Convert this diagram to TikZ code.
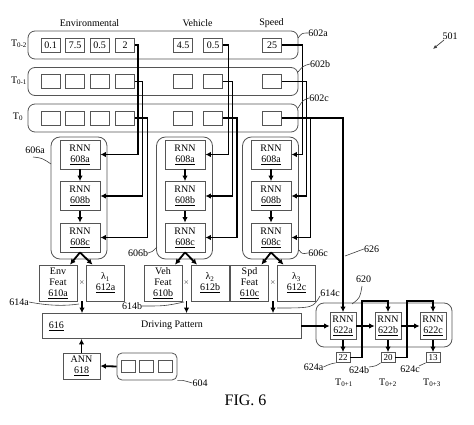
\documentclass[tikz,border=0pt]{standalone}
\usepackage{fontspec}
\setmainfont{Liberation Serif}
\usetikzlibrary{arrows.meta,calc}
\definecolor{boxgray}{RGB}{85,85,85}
\begin{document}
\begin{tikzpicture}[x=1pt,y=-1pt,
  font=\fontsize{10}{11}\selectfont,
  bx/.style={draw=boxgray, line width=0.8pt, inner sep=0pt, align=center},
  cellbox/.style={bx, minimum width=19pt, minimum height=14pt},
  rowbox/.style={draw=boxgray, line width=0.8pt, rounded corners=7pt, minimum width=270pt, minimum height=28pt, inner sep=0pt},
  rnnbox/.style={bx, minimum width=40pt, minimum height=29pt},
  rnnsmall/.style={bx, minimum width=26pt, minimum height=27pt},
  grp/.style={draw=boxgray, line width=0.8pt, rounded corners=9pt, minimum width=56pt, minimum height=122pt, inner sep=0pt},
  featbox/.style={bx, minimum width=38pt, minimum height=36pt},
  outbox/.style={bx, minimum width=14pt, minimum height=10pt, font=\fontsize{9}{9}\selectfont},
  timesmark/.style={text=black!70, inner sep=0pt, font=\fontsize{9}{9}\selectfont},
  wire/.style={line width=1.8pt},
  arr/.style={wire, -{Latex[length=5.5pt,width=5.5pt]}},
  lead/.style={line width=0.6pt, black!75},
  lbl/.style={inner sep=0pt},
]
\useasboundingbox (0,0) rectangle (474,425);

% column titles
\node[lbl] (tenv) at (89.5,23) {Environmental};
\node[lbl] (tveh) at (197.5,23) {Vehicle};
\node[lbl] (tspd) at (271.5,23) {Speed};

% rows
\node[rowbox] (r602a) at (163,45) {};
\node[rowbox] (r602b) at (163,81.5) {};
\node[rowbox] (r602c) at (163,118) {};
\node[lbl] (t02) at (19,44) {T\textsubscript{0-2}};
\node[lbl] (t01) at (19,81) {T\textsubscript{0-1}};
\node[lbl] (t00) at (18,117) {T\textsubscript{0}};

% row a cells
\node[cellbox] (ea1) at (50.5,45) {0.1};
\node[cellbox] (ea2) at (75,45) {7.5};
\node[cellbox] (ea3) at (99.5,45) {0.5};
\node[cellbox] (ea4) at (125,45) {2};
\node[cellbox] (va1) at (183,45) {4.5};
\node[cellbox] (va2) at (213,45) {0.5};
\node[cellbox] (sa) at (272,45) {25};
% rows b, c cells
\foreach \r/\y in {b/81.5,c/118}{
  \node[cellbox] (e\r1) at (50.5,\y) {};
  \node[cellbox] (e\r2) at (75,\y) {};
  \node[cellbox] (e\r3) at (99.5,\y) {};
  \node[cellbox] (e\r4) at (125,\y) {};
  \node[cellbox] (v\r1) at (183,\y) {};
  \node[cellbox] (v\r2) at (213,\y) {};
  \node[cellbox] (s\r) at (272,\y) {};
}

% RNN groups
\node[grp] (g606a) at (79,198) {};
\node[grp] (g606b) at (184.5,198) {};
\node[grp] (g606c) at (270.5,198) {};
\foreach \g/\x in {a/80,b/185,c/271}{
  \node[rnnbox] (n\g1) at (\x,154.5) {RNN\\\underline{608a}};
  \node[rnnbox] (n\g2) at (\x,196) {RNN\\\underline{608b}};
  \node[rnnbox] (n\g3) at (\x,237.5) {RNN\\\underline{608c}};
  \draw[arr] (n\g1.south) -- (n\g2.north);
  \draw[arr] (n\g2.south) -- (n\g3.north);
}

% wires rows -> RNNs
\draw[arr] (ea4.east) -- ++(3,0) |- (na1.east);
\draw[arr] (eb4.east) -- ++(7.5,0) |- (na2.east);
\draw[arr] (ec4.east) -- ++(12.5,0) |- (na3.east);
\draw[arr] (va2.east) -- ++(5.5,0) |- (nb1.east);
\draw[arr] (vb2.east) -- ++(9.5,0) |- (nb2.east);
\draw[arr] (vc2.east) -- ++(14,0) |- (nb3.east);
\draw[arr] (sa.east) -- ++(20.5,0) |- (nc1.east);
\draw[arr] (sb.east) -- ++(24.5,0) |- (nc2.east);
\draw[arr] (sc.east) -- ++(28.5,0) |- (nc3.east);

% feature boxes
\node[featbox] (fa) at (58,283) {Env\\Feat\\\underline{610a}};
\node[featbox] (la) at (105.5,283) {λ\textsubscript{1}\\\underline{612a}};
\node[featbox] (fb) at (163,283) {Veh\\Feat\\\underline{610b}};
\node[featbox] (lb) at (210,283) {λ\textsubscript{2}\\\underline{612b}};
\node[featbox] (fc) at (249.5,283) {Spd\\Feat\\\underline{610c}};
\node[featbox] (lc) at (296.5,283) {λ\textsubscript{3}\\\underline{612c}};
\node[timesmark] (xa) at (82,283) {×};
\node[timesmark] (xb) at (186.5,283) {×};
\node[timesmark] (xc) at (273,283) {×};

\foreach \g in {a,b,c}{
  \draw[arr] (n\g3.south) -- ([xshift=12pt]f\g.north);
  \draw[arr] (n\g3.south) -- ([xshift=-13pt]l\g.north);
}

% driving pattern
\node[bx, minimum width=259pt, minimum height=25pt] (dp) at (171.5,326) {};
\node[lbl] (dpt) at (172,325) {Driving Pattern};
\node[lbl, anchor=west] (dpn) at ([xshift=7pt]dp.west) {\underline{616}};
\foreach \g in {a,b,c}{
  \draw[arr] (x\g |- fa.south) -- (x\g |- dp.north);
}

% ANN and 604
\node[bx, minimum width=37pt, minimum height=26pt] (ann) at (81.5,366) {ANN\\\underline{618}};
\node[draw=boxgray, line width=0.8pt, rounded corners=5pt, minimum width=60pt, minimum height=27pt, inner sep=0pt] (b604) at (147,366.5) {};
\node[bx, minimum width=14pt, minimum height=12pt] (q1) at (128,366) {};
\node[bx, minimum width=14pt, minimum height=12pt] (q2) at (146.5,366) {};
\node[bx, minimum width=14pt, minimum height=12pt] (q3) at (165.5,366) {};
\draw[arr] (b604.west) -- (ann.east);
\draw[arr] (ann.north) -- (ann.north |- dp.south);

% right part
\node[draw=boxgray, line width=0.8pt, rounded corners=8pt, minimum width=136pt, minimum height=44pt, inner sep=0pt] (g620) at (384,325) {};
\node[rnnsmall] (ra) at (343,326) {RNN\\\underline{622a}};
\node[rnnsmall] (rb) at (388,326) {RNN\\\underline{622b}};
\node[rnnsmall] (rc) at (433,326) {RNN\\\underline{622c}};
\node[outbox] (oa) at (343,357.5) {22};
\node[outbox] (ob) at (388,357.5) {20};
\node[outbox] (oc) at (433,357.5) {13};
\draw[arr] (sc.east) -| (ra.north);
\draw[arr] (dp.east) -- (ra.west);
\draw[arr] (ra.east) -- (rb.west);
\draw[arr] (rb.east) -- (rc.west);
\draw[arr] (ra.south) -- (oa.north);
\draw[arr] (rb.south) -- (ob.north);
\draw[arr] (rc.south) -- (oc.north);
\coordinate (fba) at (362,301);
\coordinate (fbb) at (407,301);
\draw[arr] (oa.east) -| (fba) -| (rb.north);
\draw[arr] (ob.east) -| (fbb) -| (rc.north);
\node[lbl] (to1) at (344,383) {T\textsubscript{0+1}};
\node[lbl] (to2) at (388,383) {T\textsubscript{0+2}};
\node[lbl] (to3) at (432,383) {T\textsubscript{0+3}};

% reference labels and leaders
\node[lbl] (l602a) at (318,33) {602a};
\draw[lead] (298,38) .. controls (302,33) .. (l602a.west);
\node[lbl] (l602b) at (320,64) {602b};
\draw[lead] (298,72) .. controls (303,66) .. (l602b.west);
\node[lbl] (l602c) at (319,98) {602c};
\draw[lead] (298,108) .. controls (303,100) .. (l602c.west);
\node[lbl] (l606a) at (35,150) {606a};
\draw[lead] (33,157) .. controls (42,158) .. (51,164);
\node[lbl] (l606b) at (138,253) {606b};
\draw[lead] (l606b.east) .. controls (152,252) .. (157,247);
\node[lbl] (l606c) at (318,253) {606c};
\draw[lead] (299,250) .. controls (302,254) .. (l606c.west);
\node[lbl] (l614a) at (19,302) {614a};
\draw[lead] (l614a.east) .. controls (50,306) and (65,306) .. (79,304);
\node[lbl] (l614b) at (132,306) {614b};
\draw[lead] (l614b.east) .. controls (165,306) .. (184,302);
\node[lbl] (l614c) at (330,293) {614c};
\draw[lead] (320,296) .. controls (313,308) .. (277,308);
\node[lbl] (l620) at (363.5,279) {620};
\draw[lead] (362,286) .. controls (360,298) .. (352,304);
\node[lbl] (l626) at (371.5,249) {626};
\draw[lead] (l626.west) -- (345,256);
\node[lbl] (l624a) at (313.5,367) {624a};
\draw[lead] (l624a.east) .. controls (330,364) .. (oa.south west);
\node[lbl] (l624b) at (359,370) {624b};
\draw[lead] (369,367) .. controls (376,366) .. (ob.south west);
\node[lbl] (l624c) at (410,369) {624c};
\draw[lead] (419,366) .. controls (423,364) .. (oc.south west);
\node[lbl] (l604) at (200,383) {604};
\draw[lead] (b604.south east) .. controls (182,380) .. (l604.west);
\node[lbl] (l501) at (450,36) {501};
\draw[lead, line width=0.7pt, -{Latex[length=4pt,width=3.5pt]}] (444,40) -- (433,49);

\node[lbl, font=\fontsize{16}{16}\selectfont] (fig) at (245.5,400) {FIG. 6};
\end{tikzpicture}
\end{document}
